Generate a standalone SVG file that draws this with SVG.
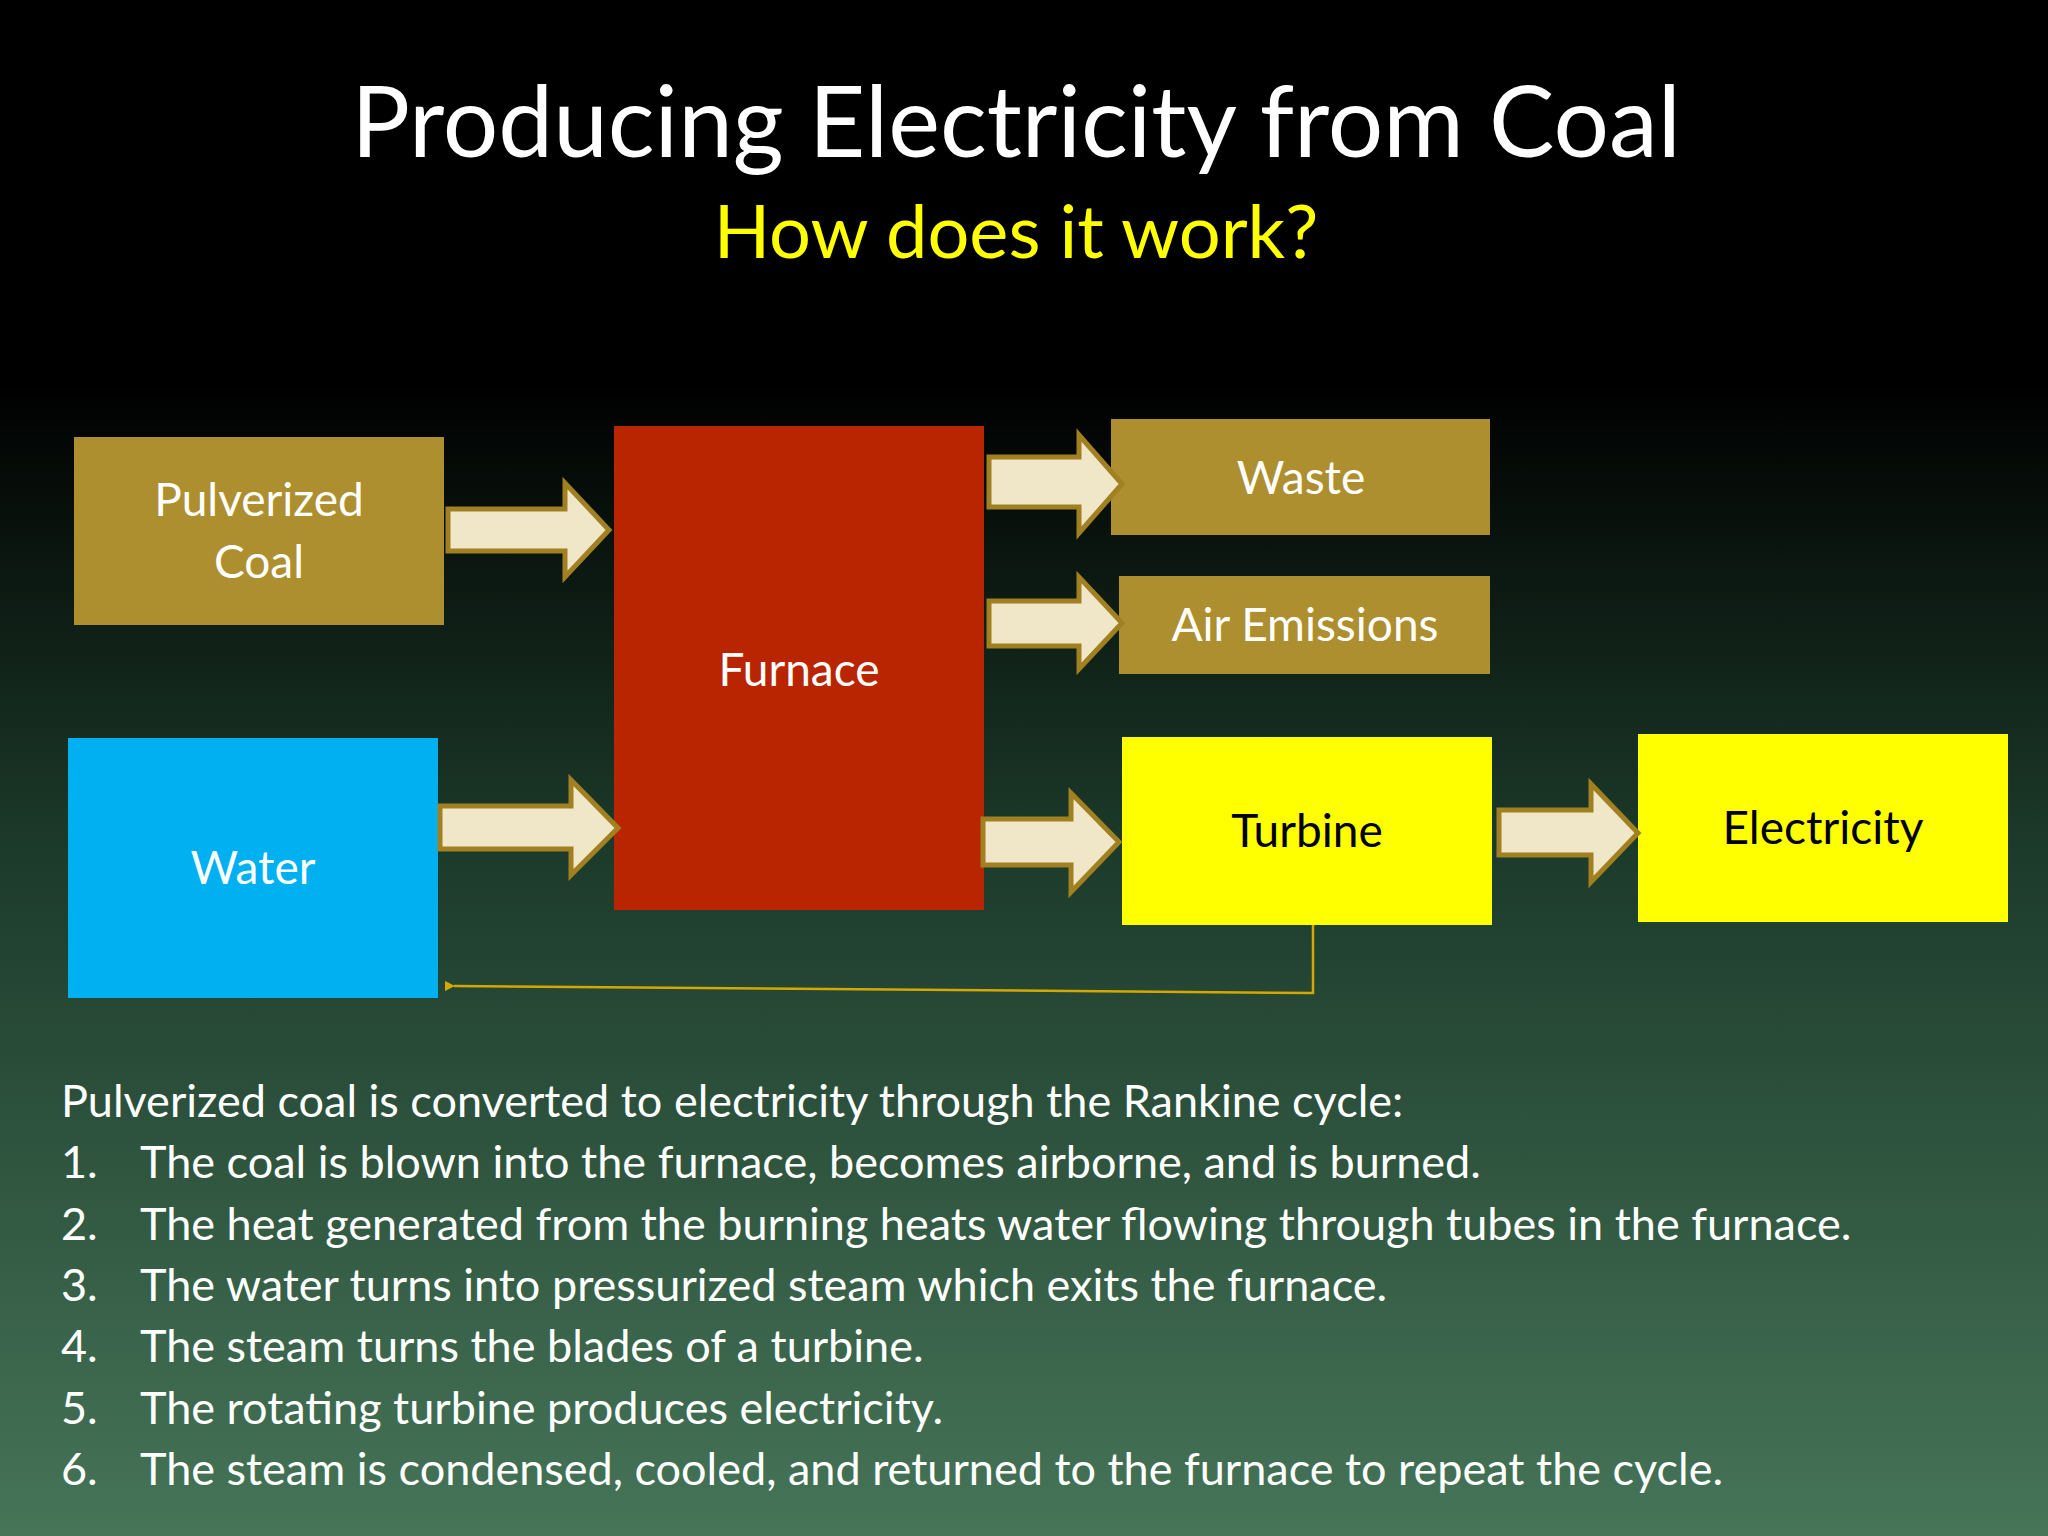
<svg xmlns="http://www.w3.org/2000/svg" width="2048" height="1536" viewBox="0 0 2048 1536">
<defs>
<linearGradient id="bg" x1="0" y1="0" x2="0" y2="1">
<stop offset="0" stop-color="#000"/><stop offset="0.25" stop-color="#000"/><stop offset="0.55" stop-color="#1c3a2a"/><stop offset="1" stop-color="#467558"/>
</linearGradient>
<marker id="ah" markerWidth="10" markerHeight="10" refX="1" refY="5" orient="auto" markerUnits="userSpaceOnUse"><path d="M10,0 L0,5 L10,10 z" fill="#D4A800"/></marker>
<style>
text{font-family:Lato,"Liberation Sans",sans-serif}
.lbl{font-size:46px;fill:#fff;text-anchor:middle}
.dk{fill:#000}
.arr{fill:#F0E6C8;stroke:#A08020;stroke-width:5}
.body{font-size:45px;fill:#fff}
</style>
</defs>
<rect width="2048" height="1536" fill="url(#bg)"/>
<text x="1016" y="157" font-size="98" fill="#fff" text-anchor="middle">Producing Electricity from Coal</text>
<text x="1016" y="258" font-size="74" fill="#FFFF00" text-anchor="middle">How does it work?</text>
<g id="coal"><rect x="74" y="437" width="370" height="188" fill="#AD8F2F"/><text class="lbl" x="259" y="516">Pulverized</text><text class="lbl" x="259" y="578">Coal</text></g>
<g id="water"><rect x="68" y="738" width="370" height="260" fill="#00B0F0"/><text class="lbl" x="253" y="884">Water</text></g>
<g id="furnace"><rect x="614" y="426" width="370" height="484" fill="#B82500"/><text class="lbl" x="799" y="686">Furnace</text></g>
<g id="waste"><rect x="1111" y="419" width="379" height="116" fill="#AD8F2F"/><text class="lbl" x="1301" y="494">Waste</text></g>
<g id="air"><rect x="1119" y="576" width="371" height="98" fill="#AD8F2F"/><text class="lbl" x="1305" y="641">Air Emissions</text></g>
<g id="turbine"><rect x="1122" y="737" width="370" height="188" fill="#FFFF00"/><text class="lbl dk" x="1307" y="847">Turbine</text></g>
<g id="electricity"><rect x="1638" y="734" width="370" height="188" fill="#FFFF00"/><text class="lbl dk" x="1823" y="844">Electricity</text></g>
<g id="connectors">
<path class="arr" d="M448,509 H565 V483 L609,530 L565,577 V551 H448 z"/>
<path class="arr" d="M440,806 H571 V780 L618,828 L571,875 V849 H440 z"/>
<path class="arr" d="M989,457 H1079 V435 L1122,484 L1079,533 V507 H989 z"/>
<path class="arr" d="M989,601 H1079 V577 L1122,623 L1079,669 V646 H989 z"/>
<path class="arr" d="M983,819 H1071 V793 L1119,842 L1071,892 V865 H983 z"/>
<path class="arr" d="M1499,810 H1591 V784 L1638,833 L1591,882 V855 H1499 z"/>
<path d="M1313,925 V993 L454,986" fill="none" stroke="#D4A800" stroke-width="2.5" marker-end="url(#ah)"/>
</g>
<g class="body">
<text class="body" x="61" y="1117">Pulverized coal is converted to electricity through the Rankine cycle:</text>
<text class="body" x="61" y="1178">1.</text><text class="body" x="140" y="1178">The coal is blown into the furnace, becomes airborne, and is burned.</text>
<text class="body" x="61" y="1240">2.</text><text class="body" x="140" y="1240">The heat generated from the burning heats water flowing through tubes in the furnace.</text>
<text class="body" x="61" y="1301">3.</text><text class="body" x="140" y="1301">The water turns into pressurized steam which exits the furnace.</text>
<text class="body" x="61" y="1362">4.</text><text class="body" x="140" y="1362">The steam turns the blades of a turbine.</text>
<text class="body" x="61" y="1424">5.</text><text class="body" x="140" y="1424">The rotating turbine produces electricity.</text>
<text class="body" x="61" y="1485">6.</text><text class="body" x="140" y="1485">The steam is condensed, cooled, and returned to the furnace to repeat the cycle.</text>
</g>
</svg>
